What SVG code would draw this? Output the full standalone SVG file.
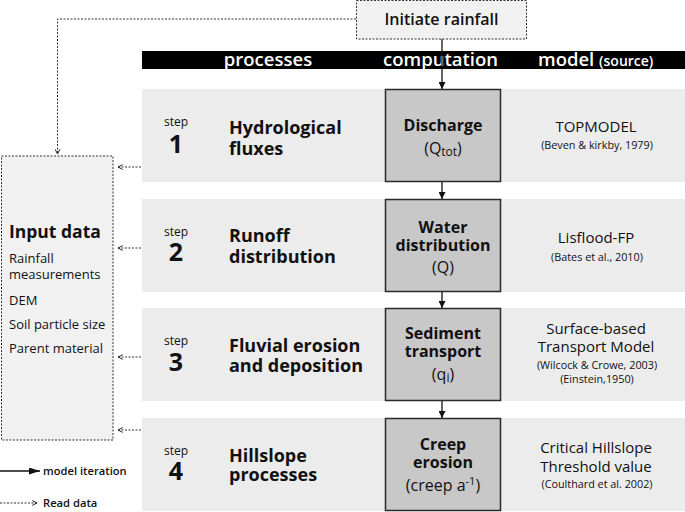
<svg xmlns="http://www.w3.org/2000/svg" width="685" height="512" viewBox="0 0 685 512">
<defs>
<marker id="solid" viewBox="0 0 10 10" refX="10" refY="5" markerWidth="7" markerHeight="7" markerUnits="userSpaceOnUse" orient="auto"><path d="M0,0 L10,5 L0,10 Z" fill="#111"/></marker>
<marker id="legsolid" viewBox="0 0 10 10" refX="10" refY="5" markerWidth="11" markerHeight="7" markerUnits="userSpaceOnUse" orient="auto" preserveAspectRatio="none"><path d="M0,0 L10,5 L0,10 Z" fill="#111"/></marker>
<marker id="open" viewBox="0 0 10 10" refX="9" refY="5" markerWidth="6" markerHeight="6" markerUnits="userSpaceOnUse" orient="auto"><path d="M1,1 L9,5 L1,9" fill="none" stroke="#222" stroke-width="1.6"/></marker>
</defs>
<style>
text{font-family:"Open Sans","Noto Sans","Liberation Sans",sans-serif;fill:#111}
.row{fill:#ececec}
.comp{fill:#c8c8c8;stroke:#2a2a2a;stroke-width:1.5}
.dash{fill:none;stroke:#333;stroke-width:1;stroke-dasharray:2 1.5}
.dbox{fill:#f1f1f1;stroke:#333;stroke-width:1;stroke-dasharray:2 1.5}
.flow{stroke:#111;stroke-width:1.3;fill:none}
.hd{fill:#fff;font-weight:600;font-size:18.5px}
.step{font-size:12px;text-anchor:middle}
.num{font-size:25px;font-weight:700;text-anchor:middle}
.proc{font-size:18px;font-weight:700}
.cb{font-size:16px;font-weight:700;text-anchor:middle}
.cr{font-size:16px;text-anchor:middle}
.mod{font-size:15px;text-anchor:middle}
.cit{font-size:10.8px;text-anchor:middle}
.inp{font-size:13px}
.leg{font-size:11.2px;font-weight:600}
</style>

<g id="header">
<rect x="142" y="51" width="543" height="18" fill="#000"/>
<text class="hd" x="268" y="65.5" text-anchor="middle">processes</text>
<text class="hd" x="440.5" y="65.5" text-anchor="middle">computation</text>
<text class="hd" x="538" y="65.5">model <tspan font-size="14px">(source)</tspan></text>
</g>

<g id="initiate">
<rect class="dbox" x="356.5" y="0.5" width="170" height="38.5"/>
<text x="441.5" y="25" text-anchor="middle" font-size="16px" font-weight="600">Initiate rainfall</text>
</g>

<g id="input">
<rect class="dbox" x="1.5" y="156" width="111.5" height="284"/>
<text x="9" y="238" font-size="17.5px" font-weight="700">Input data</text>
<text class="inp" x="9" y="263">Rainfall</text>
<text class="inp" x="9" y="279">measurements</text>
<text class="inp" x="9" y="305">DEM</text>
<text class="inp" x="9" y="329">Soil particle size</text>
<text class="inp" x="9" y="353">Parent material</text>
</g>

<g id="step1">
<rect class="row" x="142" y="89" width="543" height="93"/>
<text class="step" x="176" y="126">step</text>
<text class="num" x="176" y="153">1</text>
<text class="proc" x="229" y="134">Hydrological</text>
<text class="proc" x="229" y="155">fluxes</text>
<rect class="comp" x="385.5" y="89.5" width="115" height="92"/>
<text class="cb" x="443" y="131">Discharge</text>
<text class="cr" x="443" y="154">(Q<tspan font-size="12px" dy="1.5">tot</tspan><tspan dy="-1.5">)</tspan></text>
<text class="mod" x="596" y="132">TOPMODEL</text>
<text class="cit" x="597" y="149">(Beven &amp; kirkby, 1979)</text>
</g>

<g id="step2">
<rect class="row" x="142" y="199" width="543" height="93"/>
<text class="step" x="176" y="236">step</text>
<text class="num" x="176" y="261">2</text>
<text class="proc" x="229" y="242">Runoff</text>
<text class="proc" x="229" y="263">distribution</text>
<rect class="comp" x="385.5" y="199.5" width="115" height="92"/>
<text class="cb" x="443" y="233">Water</text>
<text class="cb" x="443" y="251">distribution</text>
<text class="cr" x="443" y="273">(Q)</text>
<text class="mod" x="596" y="243">Lisflood-FP</text>
<text class="cit" x="597" y="261">(Bates et al., 2010)</text>
</g>

<g id="step3">
<rect class="row" x="142" y="308" width="543" height="93"/>
<text class="step" x="176" y="345">step</text>
<text class="num" x="176" y="371">3</text>
<text class="proc" x="229" y="352">Fluvial erosion</text>
<text class="proc" x="229" y="372">and deposition</text>
<rect class="comp" x="385.5" y="308.5" width="115" height="92"/>
<text class="cb" x="443" y="339">Sediment</text>
<text class="cb" x="443" y="357">transport</text>
<text class="cr" x="443" y="380">(q<tspan font-size="12px" dy="1.5">i</tspan><tspan dy="-1.5">)</tspan></text>
<text class="mod" x="596" y="334">Surface-based</text>
<text class="mod" x="596" y="352">Transport Model</text>
<text class="cit" x="597" y="369">(Wilcock &amp; Crowe, 2003)</text>
<text class="cit" x="597" y="383">(Einstein,1950)</text>
</g>

<g id="step4">
<rect class="row" x="142" y="418" width="543" height="93"/>
<text class="step" x="176" y="455">step</text>
<text class="num" x="176" y="480">4</text>
<text class="proc" x="229" y="462">Hillslope</text>
<text class="proc" x="229" y="481">processes</text>
<rect class="comp" x="385.5" y="418.5" width="115" height="92"/>
<text class="cb" x="443" y="450">Creep</text>
<text class="cb" x="443" y="468">erosion</text>
<text class="cr" x="443" y="491">(creep a<tspan font-size="11px" dy="-6">-1</tspan><tspan dy="6">)</tspan></text>
<text class="mod" x="596" y="453">Critical Hillslope</text>
<text class="mod" x="596" y="472">Threshold value</text>
<text class="cit" x="597" y="488">(Coulthard et al. 2002)</text>
</g>

<g id="connectors">
<line class="flow" x1="442" y1="39" x2="442" y2="89" marker-end="url(#solid)"/>
<line class="flow" x1="442" y1="182" x2="442" y2="199" marker-end="url(#solid)"/>
<line class="flow" x1="442" y1="292" x2="442" y2="308" marker-end="url(#solid)"/>
<line class="flow" x1="442" y1="401" x2="442" y2="418" marker-end="url(#solid)"/>
<polyline class="dash" points="356,19 57.5,19 57.5,154" marker-end="url(#open)"/>
<line class="dash" x1="141" y1="167" x2="118" y2="167" marker-end="url(#open)"/>
<line class="dash" x1="141" y1="248" x2="118" y2="248" marker-end="url(#open)"/>
<line class="dash" x1="141" y1="357" x2="118" y2="357" marker-end="url(#open)"/>
<line class="dash" x1="141" y1="430" x2="118" y2="430" marker-end="url(#open)"/>
</g>

<g id="legend">
<line class="flow" x1="0" y1="471" x2="40" y2="471" marker-end="url(#legsolid)"/>
<text class="leg" x="43" y="475">model iteration</text>
<line class="dash" x1="0" y1="503" x2="37" y2="503" marker-end="url(#open)"/>
<text class="leg" x="43" y="507">Read data</text>
</g>
</svg>
